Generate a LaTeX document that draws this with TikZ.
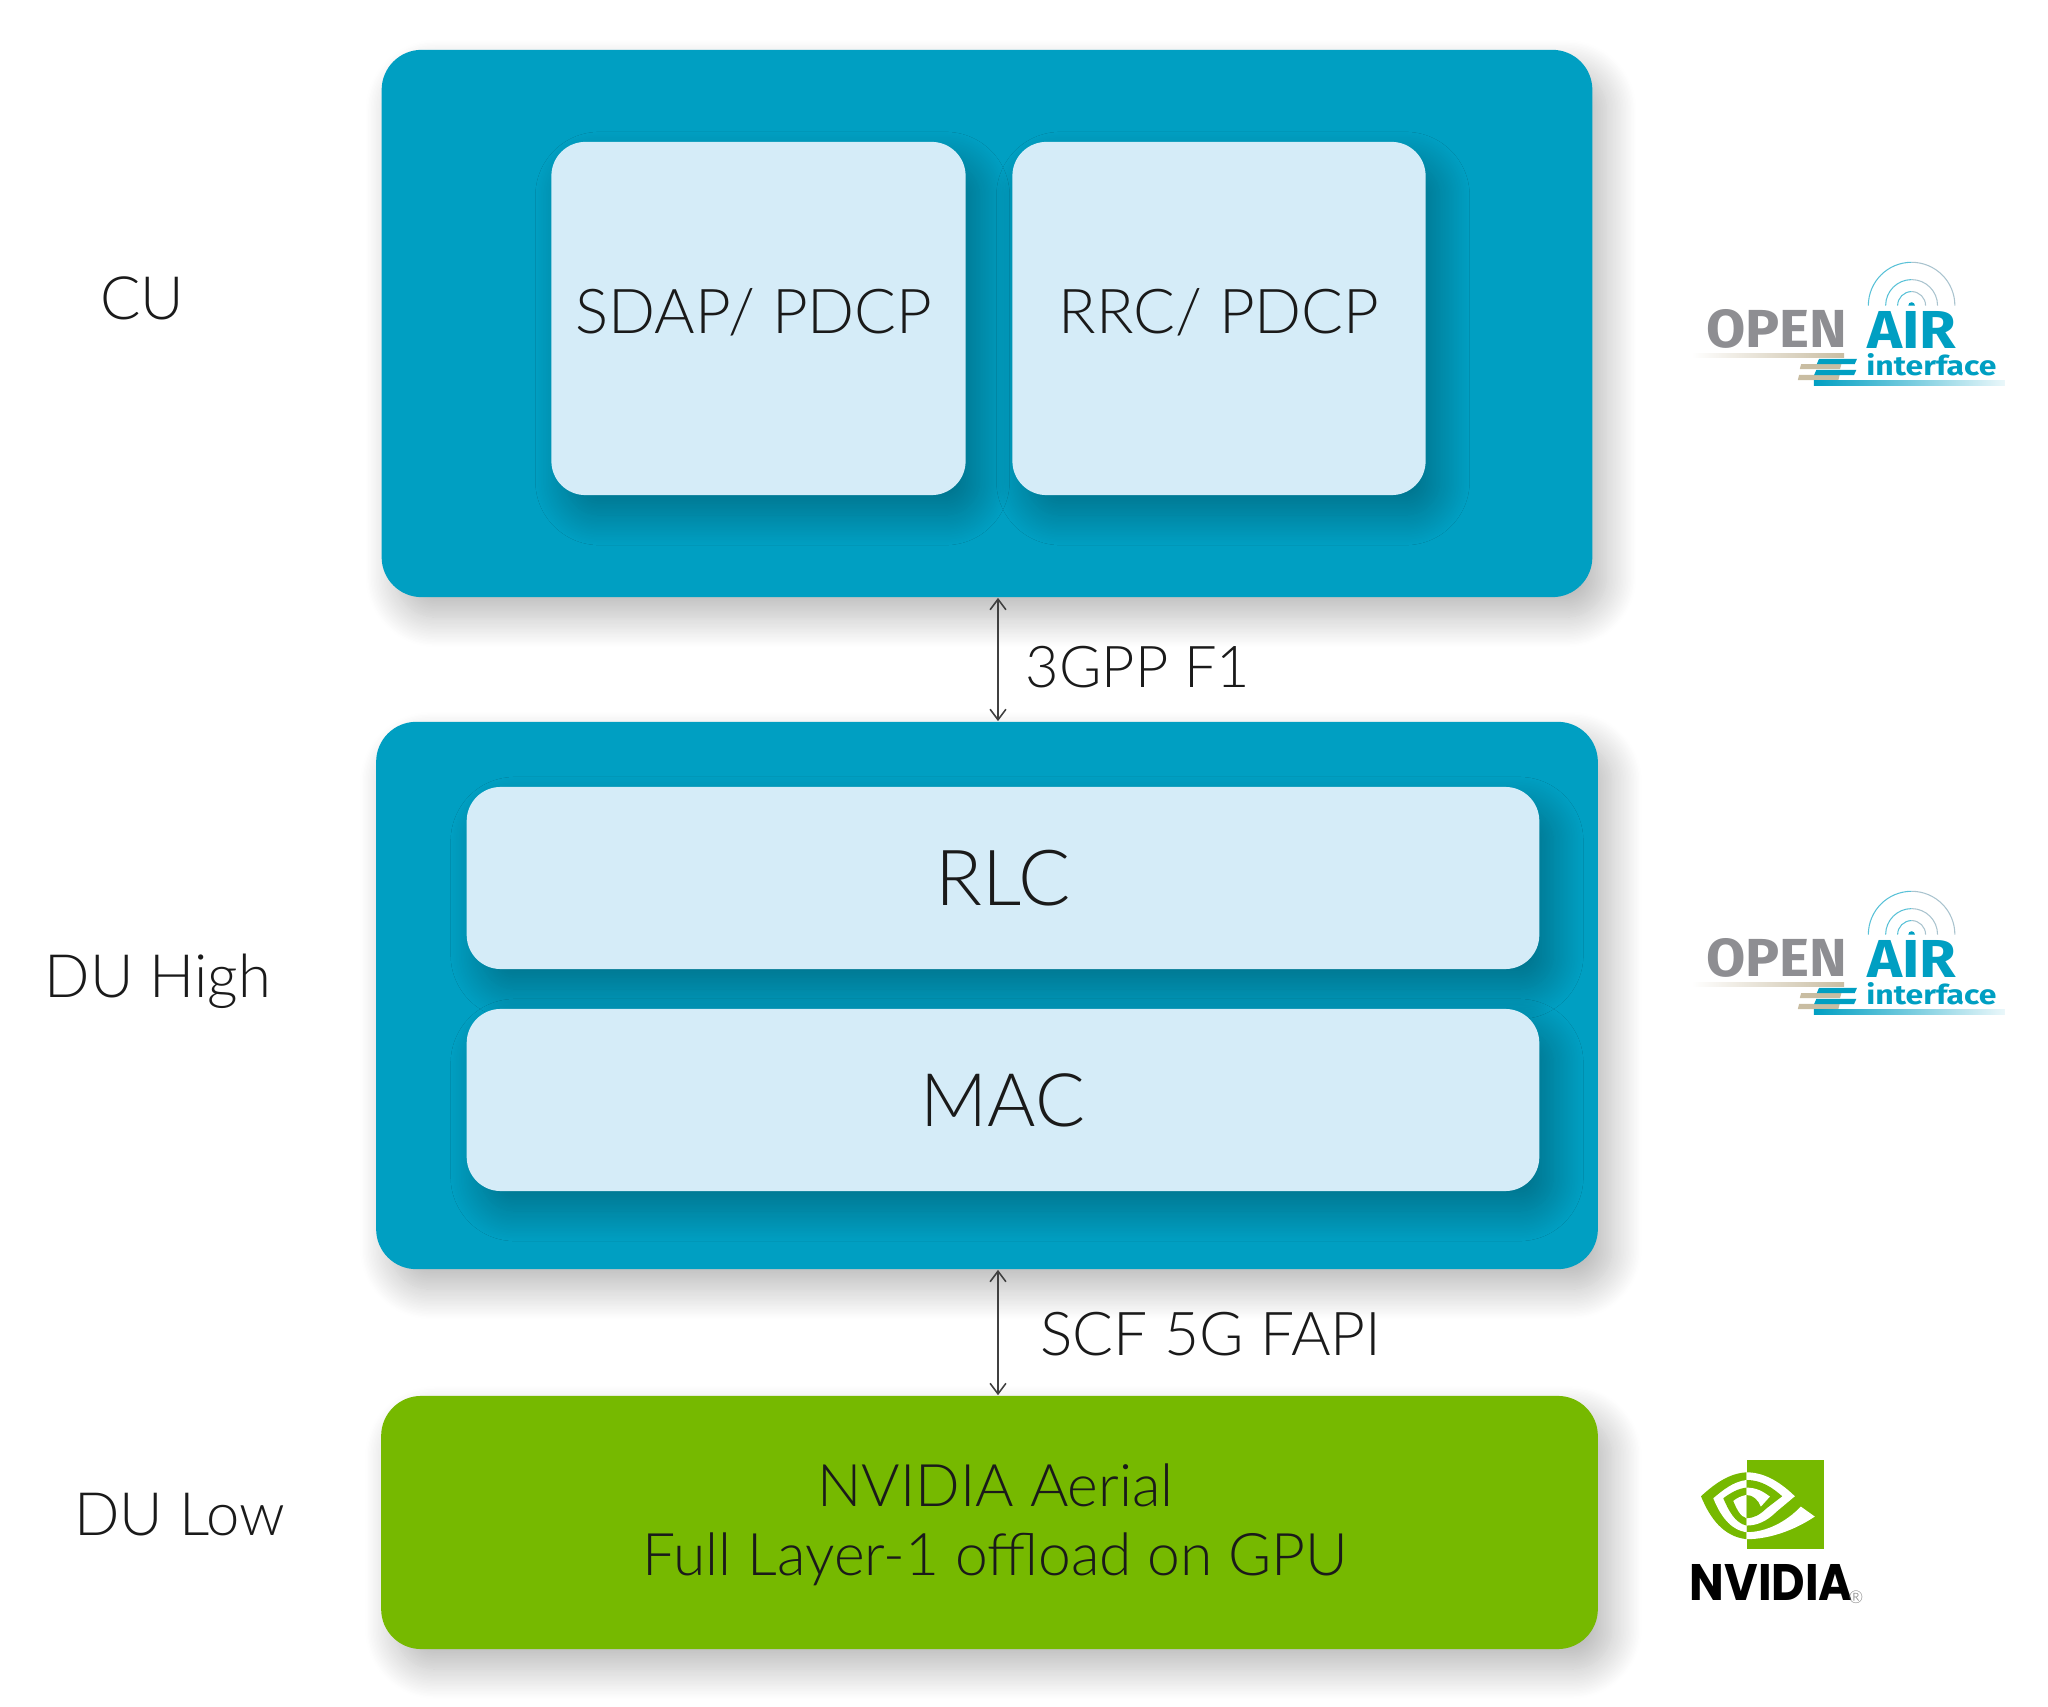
\documentclass[tikz,border=0pt]{standalone}
\usepackage{fontspec}
\usepackage{graphicx}
\setmainfont{Lato}[UprightFont=* Light]
\newfontfamily\logofont{Fira Sans}
\newfontfamily\markfont{Poppins}
\usetikzlibrary{arrows.meta,shadows.blur,calc}
\definecolor{tealbox}{HTML}{009FC2}
\definecolor{lightbox}{HTML}{D5ECF8}
\definecolor{greenbox}{HTML}{76B900}
\definecolor{inktext}{HTML}{1A1A1A}
\definecolor{opengray}{HTML}{8E8E92}
\definecolor{barsand}{HTML}{C9BDA2}
\definecolor{arcgray}{HTML}{A9C3CE}
\tikzset{
    softshadow/.style={blur shadow={shadow xshift=0.14cm,shadow yshift=-0.2cm,
        shadow blur steps=24,shadow blur radius=0.3cm,shadow opacity=#1}},
    panel/.style={rounded corners=0.4cm,inner sep=0pt,softshadow=28},
    inner/.style={panel,fill=lightbox,text=inktext,rounded corners=0.34cm},
    sidelabel/.style={text=inktext,font=\fontsize{#1}{20}\selectfont,inner sep=0pt},
    sidelabel/.default=17,
    link/.style={{Straight Barb[length=3pt,width=4.5pt]}-{Straight Barb[length=3pt,width=4.5pt]},
        draw=black!75,line width=0.45pt},
    oailogo/.pic={
        \begin{scope}[x=0.0033333cm,y=-0.0033333cm]
            % rings
            \foreach \r in {130,78,42} {
                \draw[tealbox!65,line width=0.3pt] (756-\r,197) arc[start angle=180,end angle=270,radius=\r];
                \draw[arcgray,line width=0.3pt] (756,197-\r) arc[start angle=270,end angle=360,radius=\r];
            }
            \fill[tealbox] (746,197) arc[start angle=180,end angle=360,radius=10] -- cycle;
            % bars
            \shade[left color=white,right color=barsand] (95,340) rectangle (553,354);
            \fill[barsand] (424,373) -- (545,373) -- (541,388) -- (420,388) -- cycle;
            \fill[barsand] (418,405) -- (540,405) -- (536,421) -- (414,421) -- cycle;
            \fill[tealbox] (478,357) -- (592,357) -- (585,373) -- (471,373) -- cycle;
            \fill[tealbox] (470,390) -- (590,390) -- (583,406) -- (463,406) -- cycle;
            \shade[left color=tealbox,right color=tealbox!8] (462,423) rectangle (1036,437);
            % words
            \node (open) [anchor=south west,inner sep=0pt,text=opengray] at (137,329)
                {\resizebox{1.41cm}{0.38cm}{\logofont\bfseries OPEN}};
            \node (air) [anchor=south west,inner sep=0pt,text=tealbox] at (620,328)
                {\resizebox{0.89cm}{0.37cm}{\logofont\bfseries AIR}};
            \node (iface) [anchor=south west,inner sep=0pt,text=tealbox] at (618,410)
                {\resizebox{1.30cm}{0.22cm}{\logofont\bfseries interface}};
        \end{scope}
    }
}
\begin{document}
\begin{tikzpicture}[x=0.01cm,y=-0.01cm]
    \useasboundingbox (0,0) rectangle (2048,1707);

    % CU
    \node (cu) [panel,fill=tealbox,minimum width=12.10cm,minimum height=5.47cm] at (987,323.5) {};
    \node (sdap) [inner,minimum width=4.14cm,minimum height=3.53cm] at (758.5,318.5) {};
    \node (rrc) [inner,minimum width=4.13cm,minimum height=3.53cm] at (1219,318.5) {};
    \node (sdaptext) [text=inktext,font=\fontsize{17.6}{20}\selectfont] at (754,312.5) {SDAP/ PDCP};
    \node (rrctext) [text=inktext,font=\fontsize{17.6}{20}\selectfont] at (1219,312.5) {RRC/ PDCP};

    % DU High
    \node (duhigh) [panel,fill=tealbox,minimum width=12.21cm,minimum height=5.47cm] at (987,995.5) {};
    \node (rlc) [inner,minimum width=10.72cm,minimum height=1.82cm,font=\fontsize{22}{26}\selectfont] at (1003,878) {RLC};
    \node (mac) [inner,minimum width=10.72cm,minimum height=1.82cm,font=\fontsize{21}{26}\selectfont] at (1003,1100) {MAC};

    % DU Low
    \node (dulow) [panel,fill=greenbox,minimum width=12.16cm,minimum height=2.53cm] at (989.5,1522.5) {};
    \node (dulowtext) [text=inktext,align=center,font=\fontsize{16.7}{19.7}\selectfont] at (995.5,1525) {NVIDIA Aerial\\Full Layer-1 offload on GPU};

    % interfaces
    \coordinate (linkaxis) at (998,660);
    \draw[link] (linkaxis |- cu.south) -- (linkaxis |- duhigh.north);
    \draw[link] (linkaxis |- duhigh.south) -- (linkaxis |- dulow.north);
    \node (f1) [sidelabel=16.4] at (1138,667) {3GPP F1};
    \node (fapi) [sidelabel=17.2] at (1211,1334) {SCF 5G FAPI};

    % left labels
    \node (culabel) [sidelabel] at (142,298) {CU};
    \node (duhighlabel) [sidelabel] at (158,981) {DU High};
    \node (dulowlabel) [sidelabel] at (180,1515) {DU Low};

    % logos
    \pic (oaione) at (1660,240) {oailogo};
    \pic (oaitwo) at (1660,869) {oailogo};
    \begin{scope}[shift={(1695,1455)},x=0.0033333cm,y=-0.0033333cm]
        \fill[greenbox] (155,14) rectangle (388,283);
        \fill[greenbox] (155,52) .. controls (100,55) and (55,90) .. (18,124) .. controls (45,190) and (85,245) .. (155,253) -- cycle;
        \fill[white] (155,75) .. controls (115,80) and (85,105) .. (55,130) .. controls (75,180) and (105,225) .. (155,232) -- cycle;
        \fill[greenbox] (155,98) .. controls (130,100) and (105,115) .. (85,130) .. controls (100,165) and (120,205) .. (155,212) -- cycle;
        \fill[white] (155,120) .. controls (140,122) and (125,130) .. (115,138) .. controls (125,160) and (135,185) .. (155,190) -- cycle;
        \fill[white] (155,52) .. controls (215,52) and (265,90) .. (300,124) -- (245,170) .. controls (215,200) and (185,212) .. (155,212) -- cycle;
        \fill[greenbox] (155,75) .. controls (200,75) and (235,100) .. (262,124) -- (215,160) .. controls (195,180) and (175,190) .. (155,190) -- cycle;
        \fill[white] (155,98) .. controls (185,98) and (205,110) .. (225,125) -- (198,155) .. controls (190,135) and (175,120) .. (155,120) -- cycle;
        \fill[white] (155,232) .. controls (215,232) and (275,200) .. (318,155) -- (360,185) .. controls (300,225) and (225,253) .. (155,253) -- cycle;
    \end{scope}
    \node (nvmark) [anchor=south west,inner sep=0pt,text=black] at (1689,1601)
        {\resizebox{1.63cm}{0.36cm}{\markfont\bfseries NVIDIA}};
    \node (nvreg) [anchor=west,inner sep=0pt,text=black!55,font=\fontsize{5}{5}\selectfont] at (1848,1597) {®};
\end{tikzpicture}
\end{document}
